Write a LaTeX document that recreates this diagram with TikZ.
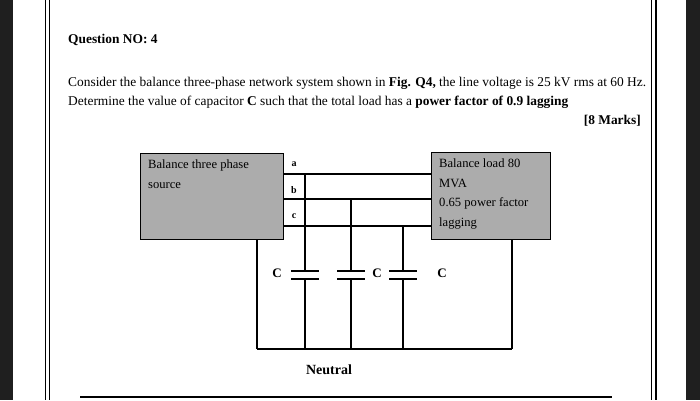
\documentclass[tikz,border=0pt]{standalone}
\usepackage{fontspec}
\setmainfont{Liberation Serif}
\begin{document}
\begin{tikzpicture}[x=1pt,y=-1pt,
  wire/.style={line width=1.1pt,black},
  box/.style={draw=black,line width=1pt,fill=gray!65},
  lbl/.style={anchor=west,inner sep=0pt,font=\fontsize{12.6}{14}\selectfont},
  ph/.style={inner sep=0pt,font=\fontsize{10}{11}\selectfont\bfseries},
  cl/.style={inner sep=0pt,font=\fontsize{13}{14}\selectfont\bfseries},
  txt/.style={anchor=west,inner sep=0pt,font=\fontsize{13.4}{15}\selectfont}]
\useasboundingbox (0,0) rectangle (700,400);
\fill[black!88] (0,0) rectangle (13,400);
\fill[black!88] (686,0) rectangle (700,400);
\draw[line width=0.8pt] (45,0) -- (45,400) (49,0) -- (49,400);
\draw[line width=0.8pt] (651,0) -- (651,400);
\draw[line width=2.5pt] (656,0) -- (656,400);
\node[txt,font=\fontsize{13.4}{15}\selectfont\bfseries] (q) at (68,40) {Question NO: 4};
\node[txt] (l1) at (68,83) {Consider the balance three-phase network system shown in \textbf{Fig. Q4,} the line voltage is 25 kV rms at 60 Hz.};
\node[txt] (l2) at (68,102) {Determine the value of capacitor \textbf{C} such that the total load has a \textbf{power factor of 0.9 lagging}};
\node[anchor=east,inner sep=0pt,font=\fontsize{13.4}{15}\selectfont\bfseries] (mk) at (641,121) {[8 Marks]};
% wires
\coordinate (na) at (283,174); \coordinate (nb) at (283,199); \coordinate (nc) at (283,226);
\coordinate (ea) at (431,174); \coordinate (eb) at (431,199); \coordinate (ec) at (431,226);
\coordinate (n1) at (257,349); \coordinate (n2) at (512,349);
\draw[wire] (n1) -- (n2);
\draw[wire] (257,239) -- (n1);
\draw[wire] (512,239) -- (n2);
\foreach \x/\y in {305/174,351/199,403/226}{
  \draw[wire] (\x,\y) -- (\x,271) (\x,279) -- (\x,349);
  \draw[wire] (\x-14,271) -- (\x+14,271) (\x-14,279) -- (\x+14,279);
}
\node[box,minimum width=143pt,minimum height=86pt,anchor=north west] (src) at (140,153) {};
\node[box,minimum width=119pt,minimum height=87pt,anchor=north west] (load) at (431,152) {};
\draw[wire] (na) -- (ea) (nb) -- (eb) (nc) -- (ec);
\node[lbl] (s1) at (148,165) {Balance three phase};
\node[lbl] (s2) at (148,186) {source};
\node[lbl] (r1) at (439,163) {Balance load 80};
\node[lbl] (r2) at (439,183) {MVA};
\node[lbl] (r3) at (439,203) {0.65 power factor};
\node[lbl] (r4) at (439,223) {lagging};
\node[ph] (a) at (294,164) {a};
\node[ph] (b) at (294,190) {b};
\node[ph] (c) at (294,216) {c};
\node[cl] (c1) at (277,273) {C};
\node[cl] (c2) at (377,273) {C};
\node[cl] (c3) at (442,273) {C};
\node[inner sep=0pt,font=\fontsize{14}{15}\selectfont\bfseries] (neu) at (329,370) {Neutral};
\draw[line width=1.5pt] (80,397) -- (612,397);
\end{tikzpicture}
\end{document}
